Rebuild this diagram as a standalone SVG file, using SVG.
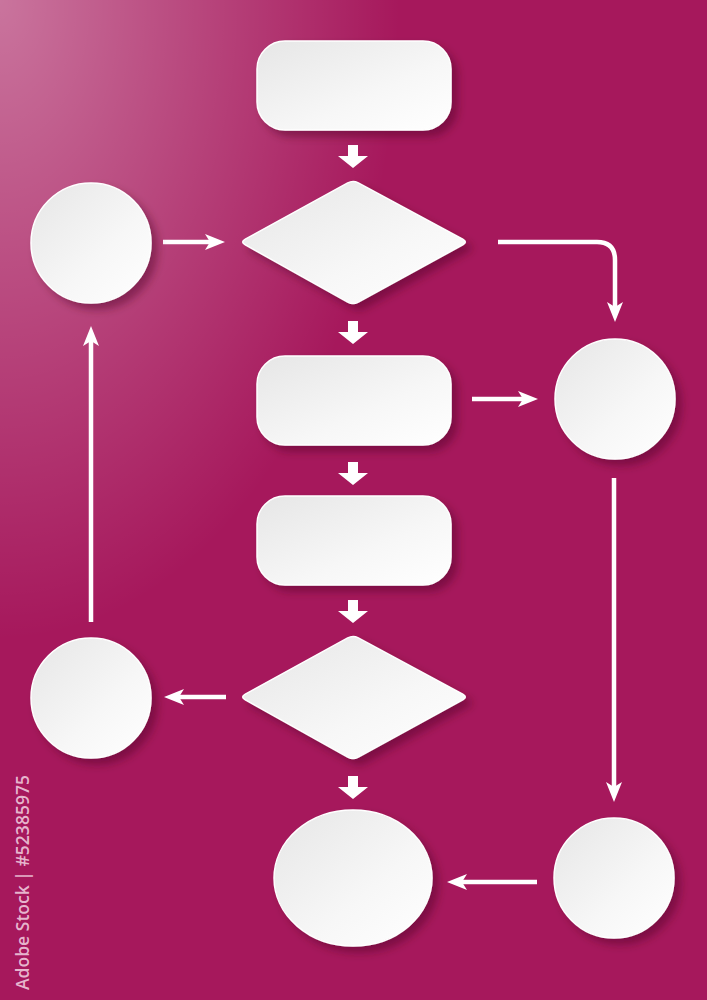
<svg xmlns="http://www.w3.org/2000/svg" xmlns:xlink="http://www.w3.org/1999/xlink" width="707" height="1000" viewBox="0 0 707 1000">
<defs>
<style>
.node{fill:url(#paper);stroke:#ffffff;stroke-width:1.5;filter:url(#shadow)}
.conn{fill:none;stroke:#ffffff;stroke-width:4.5;marker-end:url(#head)}
.block{fill:#ffffff}
.stamp{font-family:"Open Sans","Liberation Sans",sans-serif;font-size:18px;font-weight:600;fill:#f3d3e2;fill-opacity:0.85}
</style>
<radialGradient id="glow" gradientUnits="userSpaceOnUse" cx="0" cy="0" r="400" gradientTransform="scale(1,1.6)">
<stop offset="0" stop-color="#ffffff" stop-opacity="0.4"/>
<stop offset="0.5" stop-color="#ffffff" stop-opacity="0.2"/>
<stop offset="1" stop-color="#ffffff" stop-opacity="0"/>
</radialGradient>
<linearGradient id="paper" x1="0" y1="0" x2="1" y2="1">
<stop offset="0" stop-color="#e6e6e6"/>
<stop offset="0.6" stop-color="#f7f7f7"/>
<stop offset="1" stop-color="#ffffff"/>
</linearGradient>
<filter id="shadow" x="-20%" y="-20%" width="150%" height="150%">
<feDropShadow dx="6" dy="6" stdDeviation="4.5" flood-color="#4a0526" flood-opacity="0.45"/>
</filter>
<marker id="head" markerUnits="userSpaceOnUse" viewBox="0 0 20 16" refX="10" refY="8" markerWidth="20" markerHeight="16" orient="auto">
<path d="M0,0 L20,8 L0,16 L5,8 Z" fill="#ffffff"/>
</marker>
<path id="diamond" d="M245.3,239.1 L347.7,182.9 Q353,180 358.3,182.8 L462.7,239.1 Q468,242 462.7,244.9 L358.3,302.1 Q353,305 347.7,302.1 L245.3,244.9 Q240,242 245.3,239.1 Z"/>
<path id="darrow" d="M348,0 H358 V11 H368 L353,23 L338,11 H348 Z"/>
</defs>

<rect x="0" y="0" width="707" height="1000" fill="#a6185c"/>
<rect x="0" y="0" width="707" height="1000" fill="url(#glow)"/>

<g id="connectors">
<path class="conn" d="M163,242 H215"/>
<path class="conn" d="M498,242 H597 Q615,242 615,260 V312"/>
<path class="conn" d="M472,399 H528"/>
<path class="conn" d="M614,478 V792"/>
<path class="conn" d="M537,882 H457"/>
<path class="conn" d="M226,697 H174"/>
<path class="conn" d="M91,622 V336"/>
<use class="block" xlink:href="#darrow" href="#darrow" y="145"/>
<use class="block" xlink:href="#darrow" href="#darrow" y="321"/>
<use class="block" xlink:href="#darrow" href="#darrow" y="462"/>
<use class="block" xlink:href="#darrow" href="#darrow" y="600"/>
<use class="block" xlink:href="#darrow" href="#darrow" y="776"/>
</g>

<g id="start"><rect class="node" x="257" y="41" width="194" height="89" rx="28" ry="28"/></g>
<g id="decision1"><use class="node" xlink:href="#diamond" href="#diamond"/></g>
<g id="circleTopLeft"><circle class="node" cx="91" cy="243" r="60"/></g>
<g id="process1"><rect class="node" x="257" y="356" width="194" height="89" rx="28" ry="28"/></g>
<g id="circleRight"><circle class="node" cx="615" cy="399" r="60"/></g>
<g id="process2"><rect class="node" x="257" y="496" width="194" height="89" rx="28" ry="28"/></g>
<g id="decision2"><use class="node" xlink:href="#diamond" href="#diamond" y="455"/></g>
<g id="circleBottomLeft"><circle class="node" cx="91" cy="698" r="60"/></g>
<g id="end"><ellipse class="node" cx="353" cy="878" rx="79" ry="68"/></g>
<g id="circleBottomRight"><circle class="node" cx="614" cy="878" r="60"/></g>

<text class="stamp" x="990" y="29" transform="rotate(-90 0 0) translate(-1980 0)" textLength="215" lengthAdjust="spacingAndGlyphs">Adobe Stock | #52385975</text>
</svg>
